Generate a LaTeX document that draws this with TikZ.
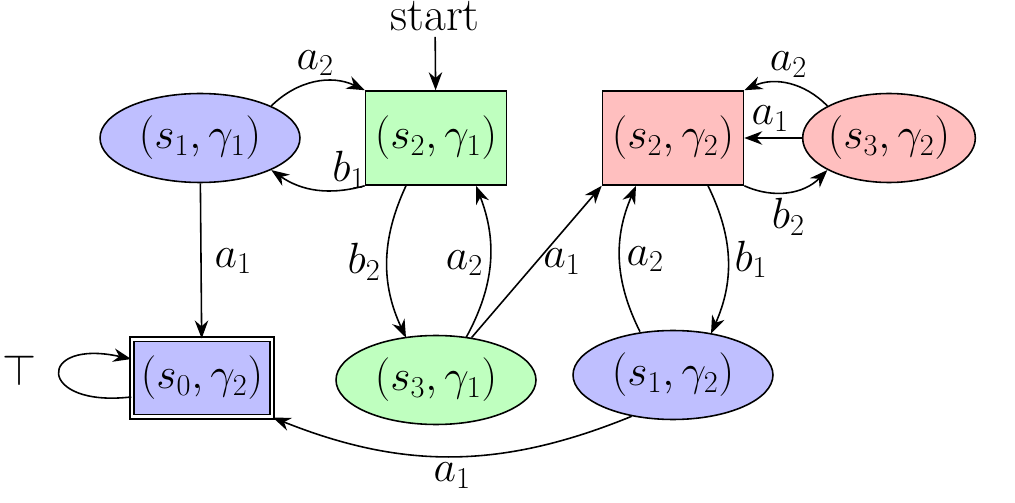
\documentclass[tikz,border=0pt]{standalone}
\usetikzlibrary{shapes.geometric,arrows.meta,calc}
\definecolor{cb}{HTML}{BFBFFF}\definecolor{cg}{HTML}{BFFFBF}\definecolor{cr}{HTML}{FFBFBF}
\begin{document}
\begin{tikzpicture}[x=0.02cm,y=-0.02cm,font=\fontsize{27}{30}\selectfont,
 el/.style={ellipse,draw,line width=0.9pt,minimum width=4cm,minimum height=1.78cm,inner sep=0pt},
 rc/.style={rectangle,draw,line width=0.9pt,minimum width=2.82cm,minimum height=1.88cm},
 e/.style={-{Stealth[length=3.6mm,width=2.7mm]},line width=0.9pt}]
\useasboundingbox (0,0) rectangle (1015,503);
\node[el,fill=cb] (a) at (200,138) {$(s_1,\gamma_1)$};
\node[rc,fill=cg] (b) at (436,138) {$(s_2,\gamma_1)$};
\node[rc,fill=cr] (c) at (673,138) {$(s_2,\gamma_2)$};
\node[el,fill=cr,minimum width=3.25cm] (d) at (889,138) {$(s_3,\gamma_2)$};
\node[rc,fill=cb,double,double distance=1.5pt,minimum width=2.8cm,minimum height=1.55cm] (f) at (202,378) {$(s_0,\gamma_2)$};
\node[el,fill=cg] (g) at (436,380) {$(s_3,\gamma_1)$};
\node[el,fill=cb] (h) at (673,375) {$(s_1,\gamma_2)$};
\node (st) at (435,16) {start};
\node (top) at (20,370) {$\top$};
\draw[e] (st) -- (b);
\draw[e] (a.north east) to[bend left=35] node[above]{$a_2$} (b.north west);
\draw[e] (b.south west) to[bend left=25] node[above right,pos=0.35,inner sep=1pt]{$b_1$} (a.south east);
\draw[e] (a) -- node[right,xshift=4pt]{$a_1$} (f);
\draw[e] ($(b.south)+(-30,0)$) to[bend right=25] node[left]{$b_2$} ($(g.north)+(-30,3)$);
\draw[e] ($(g.north)+(30,3)$) to[bend right=25] node[left]{$a_2$} ($(b.south)+(40,0)$);
\draw[e] (g.50) -- node[right,pos=0.5]{$a_1$} (c.south west);
\draw[e] ($(c.south)+(35,0)$) to[bend left=25] node[right]{$b_1$} ($(h.north)+(38,4)$);
\draw[e] ($(h.north)+(-33,2)$) to[bend left=25] node[right]{$a_2$} ($(c.south)+(-37,0)$);
\draw[e] (d.north west) to[bend right=35] node[above]{$a_2$} (c.north east);
\draw[e] (d) -- node[above,pos=0.55]{$a_1$} (c);
\draw[e] (c.south east) to[bend right=35] node[below]{$b_2$} (d.south west);
\draw[e] (h.-135) to[bend left=22] node[below]{$a_1$} (f.south east);
\draw[e] (f.-165) .. controls ($(f.west)+(-95,30)$) and ($(f.west)+(-95,-40)$) .. (f.165);
\end{tikzpicture}
\end{document}
